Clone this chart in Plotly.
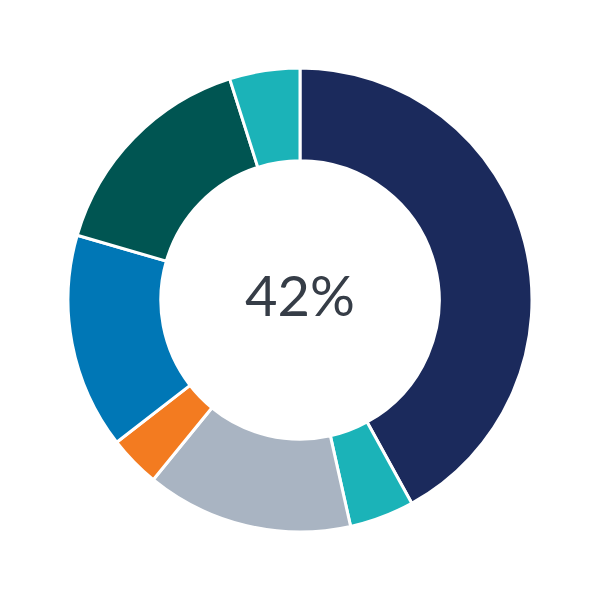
import plotly.graph_objects as go

segments = ["Navy", "Teal A", "Grey", "Orange", "Blue", "Green", "Teal B"]
shares = [42.0, 4.5, 14.4, 3.6, 15.0, 15.6, 4.9]
colours = ["#1b2a5c", "#1bb3b8", "#a9b4c2", "#f37b20", "#0077b6", "#005552", "#1bb3b8"]
centre_label = "42%"

fig = go.Figure(go.Pie(
    labels=segments,
    values=shares,
    hole=0.6,
    sort=False,
    direction="clockwise",
    rotation=0,
    textinfo="none",
    hoverinfo="label+percent",
    marker=dict(colors=colours, line=dict(color="white", width=3)),
))

fig.add_annotation(
    text=centre_label, x=0.5, y=0.5, xref="paper", yref="paper",
    showarrow=False, yshift=6, font=dict(family="Lato", size=56, color="#363d47"),
)

# page body has an 8px margin, so shift the donut up/left to centre at 300,300
fig.update_layout(
    width=600, height=600,
    showlegend=False,
    margin=dict(l=60, r=76, t=60, b=76),
    paper_bgcolor="white",
)

fig.write_html("out.html")
